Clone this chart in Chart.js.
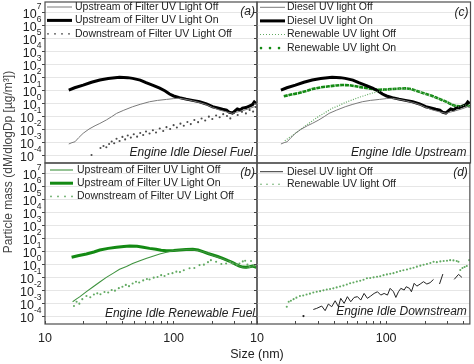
<!DOCTYPE html>
<html><head><meta charset="utf-8">
<script src="https://cdn.jsdelivr.net/npm/chart.js@4/dist/chart.umd.min.js"></script>
<style>
html,body{margin:0;padding:0;background:#fff;}
#wrap{position:relative;width:474px;height:364px;overflow:hidden;}
#wrap canvas{position:absolute;left:0;top:0;}
</style></head><body>
<div id="wrap">
<canvas id="ca" width="474" height="364"></canvas>
<canvas id="cb" width="474" height="364"></canvas>
<canvas id="cc" width="474" height="364"></canvas>
<canvas id="cd" width="474" height="364"></canvas>
</div>
<script>
// ---------- axis ticks ----------
const xTickValues = [10, 20, 30, 40, 50, 60, 70, 80, 90, 100, 200, 300, 400];
const xLabelValues = [10, 100];
const yTickExponents = [-4, -3, -2, -1, 0, 1, 2, 3, 4, 5, 6, 7];
const X_MIN = 10, X_MAX = 445;
const Y_MIN = 2.45e-5, Y_MAX = 5.9e7;

// ---------- legend / annotation text ----------
const legendA = ['Upstream of Filter UV Light Off', 'Upstream of Filter UV Light On', 'Downstream of Filter UV Light Off'];
const legendB = ['Upstream of Filter UV Light Off', 'Upstream of Filter UV Light On', 'Downstream of Filter UV Light Off'];
const legendC = ['Diesel UV light Off', 'Diesel UV light On', 'Renewable UV light Off', 'Renewable UV light On'];
const legendD = ['Diesel UV light Off', 'Renewable UV light Off'];

// ---------- data (size nm, mass dM/dlogDp) ----------
// Diesel, upstream, UV off
const dieselUpOffSize = [15.3, 16.2, 17.1, 18.3, 19.8, 22, 24.5, 26.7, 30, 33, 36, 41, 48, 55, 65, 75, 88, 100, 111, 125, 140, 159, 180, 200, 225, 256, 287, 310, 343, 380, 424, 440];
const dieselUpOffVal  = [7.1e-4, 9e-4, 1.05e-3, 2.2e-3, 4.7e-3, 0.010, 0.018, 0.027, 0.05, 0.09, 0.16, 0.28, 0.52, 0.8, 1.26, 1.6, 1.9, 2.2, 2.3, 1.9, 1.5, 1.1, 0.75, 0.47, 0.3, 0.21, 0.16, 0.2, 0.26, 0.35, 0.52, 0.45];
// Diesel, upstream, UV on
const dieselUpOnSize = [15.3, 17, 19.8, 23, 26.7, 31, 38, 44, 48, 55, 61, 70, 78, 86, 93, 100, 111, 125, 140, 159, 180, 201, 220, 240, 258, 270, 287, 300, 313, 330, 343, 365, 388, 410, 424, 440];
const dieselUpOnVal  = [10, 15, 24, 40, 59, 78, 95, 90, 79, 58, 37, 22, 14, 8.5, 4.9, 3.5, 2.6, 2.0, 1.6, 1.26, 0.85, 0.52, 0.42, 0.33, 0.29, 0.2, 0.17, 0.25, 0.35, 0.3, 0.41, 0.45, 0.59, 0.75, 1.2, 0.9];
// Diesel, downstream, UV off (panel a)
const dieselDownSizeA = [23, 27, 28.5, 30, 31.5, 33, 34.5, 36, 38, 40, 42, 44, 46.5, 49, 52, 55, 58, 61, 65, 69, 73, 78, 83, 88, 94, 100, 106, 113, 120, 128, 136, 145, 155, 165, 176, 188, 200, 214, 228, 243, 260, 276, 295, 315, 340, 365, 390, 415, 435];
const dieselDownValA  = [1.0e-4, 3.5e-4, 5e-4, 4e-4, 7e-4, 1.1e-3, 8e-4, 1.8e-3, 1.2e-3, 2.5e-3, 1.6e-3, 3.2e-3, 2.2e-3, 4e-3, 2.6e-3, 5e-3, 3.5e-3, 6.5e-3, 4.5e-3, 8e-3, 5.5e-3, 0.011, 7e-3, 0.014, 0.01, 0.02, 0.013, 0.026, 0.018, 0.035, 0.024, 0.05, 0.034, 0.065, 0.045, 0.09, 0.06, 0.11, 0.08, 0.14, 0.1, 0.066, 0.17, 0.12, 0.21, 0.16, 0.29, 0.22, 0.5];
// Renewable, upstream, UV off
const renewUpOffSize = [16.4, 17.5, 18.7, 21, 23.7, 26.5, 30, 34, 38, 43, 48, 54, 61, 69, 78, 88, 99, 111, 125, 140, 159, 180, 202, 220, 241, 265, 288, 305, 325, 345, 366, 390, 412, 440];
const renewUpOffVal  = [1.26e-3, 2e-3, 3.1e-3, 7.5e-3, 0.018, 0.04, 0.095, 0.2, 0.39, 0.65, 1.1, 1.7, 2.7, 4, 5.9, 8, 10.5, 12, 13, 12.5, 10.5, 7.5, 4.5, 3.4, 2.5, 1.8, 1.3, 1.0, 0.7, 0.55, 0.5, 0.65, 0.7, 0.6];
// Renewable, upstream, UV on
const renewUpOnSize = [16.1, 18, 21, 24, 26.7, 31, 36, 41, 45.6, 52, 58, 65, 73, 80, 88, 100, 111, 125, 141, 155, 169, 185, 202, 220, 241, 265, 288, 305, 325, 345, 366, 390, 412, 440];
const renewUpOnVal  = [3.3, 4.3, 5.9, 8.5, 12, 16, 19.5, 22.5, 24.5, 23, 19.5, 16, 13.5, 11.5, 10.5, 11, 12, 13, 13.5, 12, 8.9, 6.5, 5, 3.8, 2.7, 1.8, 1.3, 0.95, 0.7, 0.58, 0.56, 0.62, 0.7, 0.56];
// Renewable, downstream, UV off (panel b)
const renewDownSizeB = [16.8, 17.6, 18.5, 19.5, 21, 22.5, 24, 25.5, 27, 29, 31, 33, 35, 37.5, 40, 42.5, 45, 48, 51, 54, 58, 62, 65, 70, 75, 80, 85, 91, 98, 105, 112, 120, 133, 145, 159, 172, 185, 195, 214, 235, 256, 275, 288, 310, 325, 345, 360, 375, 390, 400, 420];
const renewDownValB  = [5.9e-4, 1.26e-3, 9e-4, 2e-3, 3.5e-3, 2.8e-3, 4.5e-3, 5.6e-3, 4.8e-3, 7e-3, 6.5e-3, 0.01, 0.009, 0.014, 0.018, 0.025, 0.02, 0.032, 0.044, 0.038, 0.055, 0.07, 0.065, 0.09, 0.1, 0.14, 0.12, 0.17, 0.2, 0.26, 0.24, 0.33, 0.47, 0.5, 0.83, 0.9, 1.4, 2.0, 1.5, 1.0, 1.1, 1.4, 1.1, 0.9, 1.1, 1.6, 1.8, 0.9, 0.6, 1.7, 0.8];
// Diesel, downstream, UV off (panel d, gaps = missing)
const dieselDownSizeD = [22.9, 25, 27.3, 29.0, 31.7, 33.7, 35.7, 37.9, 40.3, 42.7, 44.5, 47.3, 50.1, 53.2, 56.5, 60, 63.6, 67.5, 71.6, 76, 80.7, 85.7, 90.9, 96.5, 102.4, 107.4, 114, 118.9, 124.6, 130, 138, 143, 151.7, 157, 164.8, 172.9, 183.5, 194.7, 206.6, 219, 232.8, 245, 259, 275, 300, 336.6, 363.6, 386];
const dieselDownValD  = [1e-4, null, 3.2e-4, 3.9e-4, 5.9e-4, 2.6e-4, 8.4e-4, 5.2e-4, 1.5e-3, 5.2e-4, 2.3e-3, 9.5e-4, 3.1e-3, 1.26e-3, 2.7e-3, 3.1e-3, 1.7e-3, 5.5e-3, 2.3e-3, 3.5e-3, 5.5e-3, 7.4e-3, 4.1e-3, 5.5e-3, 4.1e-3, 0.0135, 7.4e-3, 2.7e-3, 7.4e-3, 0.0135, 0.01, 0.018, 0.0135, 7.4e-3, 0.033, 0.02, 0.029, 0.044, 0.029, 0.037, 0.066, null, 0.029, 0.17, null, 0.066, 0.16, 0.095];
// Renewable, downstream, UV off (panel d)
const renewDownSizeD = [17, 17.6, 18.3, 19.2, 20.2, 21.5, 22.8, 24.2, 25.7, 27.3, 29, 30.8, 32.7, 34.7, 36.8, 39, 41.4, 44, 46.7, 49.6, 52.6, 55.8, 59.3, 63, 66.8, 71, 75.3, 80, 85, 90, 95.5, 101.4, 107.6, 114, 121, 128.5, 136, 145, 154, 163, 173, 184, 195, 207, 220, 233, 247, 263, 279, 296, 313, 332, 352, 363, 375, 390, 405, 421, 440];
const renewDownValD  = [5.2e-4, 1.26e-3, 1.5e-3, 2.0e-3, 2.6e-3, 3.5e-3, 3.8e-3, 4.6e-3, 5.3e-3, 6.5e-3, 7.4e-3, 8.2e-3, 9.5e-3, 0.011, 0.012, 0.0135, 0.016, 0.019, 0.022, 0.027, 0.033, 0.038, 0.045, 0.052, 0.062, 0.08, 0.085, 0.095, 0.105, 0.115, 0.14, 0.16, 0.18, 0.2, 0.24, 0.29, 0.33, 0.38, 0.45, 0.52, 0.63, 0.75, 0.88, 1.0, 1.2, 1.5, 1.4, 1.6, 1.7, 1.8, 2.0, 1.9, 1.7, 1.5, 0.35, 0.5, 0.6, 0.7, 2.0];

// ---------- styling ----------
const FAMILY = '"Liberation Sans", Arial, Helvetica, sans-serif';
Chart.defaults.font.family = FAMILY;
const C_BLACK = '#000000', C_GRAY = '#7a7a7a', C_DOT = '#4a4a4a';
const C_GREEN = '#138a13', C_GREEN_THIN = '#3f933f', C_GREEN_DOT = '#62aa62';
const C_TEXT = '#222222', C_FRAME = '#4d4d4d';

function pts(xs, ys) { return xs.map((x, i) => ({x: x, y: ys[i]})); }
function lineDs(label, xs, ys, color, width, dash) {
  return {label, data: pts(xs, ys), borderColor: color, backgroundColor: color, borderWidth: width,
    borderDash: dash || [], pointRadius: 0, tension: 0, fill: false, spanGaps: false};
}
function dotDs(label, xs, ys, color, r) {
  return {label, data: pts(xs, ys), showLine: false, pointRadius: r, pointHoverRadius: r,
    pointBackgroundColor: color, pointBorderWidth: 0, borderColor: color, backgroundColor: color};
}

function xScale(show) {
  return {
    type: 'logarithmic', min: X_MIN, max: X_MAX, display: show,
    afterBuildTicks: s => { s.ticks = xTickValues.map(v => ({value: v})); },
    afterFit: s => { s.height = show ? 40 : 0; },
    ticks: {autoSkip: false, maxRotation: 0, padding: 10, color: C_TEXT, font: {size: 12.5},
      callback: v => xLabelValues.includes(v) ? String(v) : ''},
    grid: {drawOnChartArea: false, drawTicks: true, tickLength: -3, tickColor: '#444', tickWidth: 1},
    border: {display: false}
  };
}
function yScale(labelSpace) {
  return {
    type: 'logarithmic', min: Y_MIN, max: Y_MAX,
    afterBuildTicks: s => { s.ticks = yTickExponents.map(e => ({value: Math.pow(10, e)})); },
    afterFit: s => { s.width = labelSpace; },
    ticks: {display: false},
    grid: {color: '#e6e6e6', lineWidth: 1, drawTicks: true, tickLength: 3, tickColor: '#444', tickWidth: 1},
    border: {display: false}
  };
}

const decoPlugin = {
  id: 'deco',
  afterDatasetsDraw(chart, args, o) {
    const ctx = chart.ctx, a = chart.chartArea;
    ctx.save();
    ctx.strokeStyle = C_FRAME; ctx.lineWidth = 1.2;
    ctx.strokeRect(a.left, a.top, a.right - a.left, a.bottom - a.top);
    ctx.textBaseline = 'middle'; ctx.textAlign = 'left';
    o.legend.forEach((it, i) => {
      const y = a.top + o.legY + i * o.legStep;
      const x0 = a.left + o.legX0, x1 = a.left + o.legX1;
      if (it.dots) {
        ctx.fillStyle = it.color;
        for (let x = x0 + 1; x <= x1; x += it.gap) { ctx.beginPath(); ctx.arc(x, y, it.r, 0, Math.PI * 2); ctx.fill(); }
      } else {
        ctx.strokeStyle = it.color; ctx.lineWidth = it.width; ctx.setLineDash(it.dash || []);
        ctx.beginPath(); ctx.moveTo(x0, y); ctx.lineTo(x1, y); ctx.stroke(); ctx.setLineDash([]);
      }
      ctx.fillStyle = C_TEXT; ctx.font = '10.5px ' + FAMILY;
      ctx.fillText(it.text, a.left + o.legText, y);
    });
    ctx.textAlign = 'right';
    ctx.font = 'italic 12px ' + FAMILY; ctx.fillStyle = C_TEXT;
    ctx.fillText(o.letter, a.right - 2, a.top + o.letterY);
    ctx.fillText(o.note, a.right - o.noteR, a.bottom - o.noteB);
    if (o.yLabels) {
      const ys = chart.scales.y;
      ctx.textBaseline = 'alphabetic'; ctx.textAlign = 'right'; ctx.fillStyle = C_TEXT;
      yTickExponents.forEach(e => {
        const p = ys.getPixelForValue(Math.pow(10, e));
        const ex = String(e);
        ctx.font = '8.5px ' + FAMILY;
        const ew = ctx.measureText(ex).width;
        ctx.fillText(ex, 41.5, p - 3.5);
        ctx.font = '12.5px ' + FAMILY;
        ctx.fillText('10', 41.5 - ew, p + 6);
      });
    }
    if (o.titles) {
      ctx.fillStyle = '#444'; ctx.textAlign = 'center'; ctx.textBaseline = 'middle';
      ctx.font = '12px ' + FAMILY;
      ctx.save(); ctx.translate(9, 162); ctx.rotate(-Math.PI / 2);
      ctx.fillText('Particle mass (dM/dlogDp [\u00b5g/m\u00b3])', 0, 0);
      ctx.restore();
      ctx.fillStyle = C_TEXT; ctx.font = '12.5px ' + FAMILY;
      ctx.fillText('Size (nm)', 257, 355);
    }
    ctx.restore();
  }
};

function makeChart(id, pad, showX, ySpace, datasets, deco) {
  return new Chart(document.getElementById(id), {
    type: 'line',
    data: {datasets},
    options: {
      responsive: false, animation: false, devicePixelRatio: 1, events: [],
      layout: {padding: pad},
      plugins: {legend: {display: false}, tooltip: {enabled: false}, deco},
      scales: {x: xScale(showX), y: yScale(ySpace)}
    },
    plugins: [decoPlugin]
  });
}

// Panel (a)
makeChart('ca', {left: 0, right: 217, top: 2, bottom: 201}, false, 45, [
  dotDs(legendA[2], dieselDownSizeA, dieselDownValA, C_DOT, 1.05),
  lineDs(legendA[0], dieselUpOffSize, dieselUpOffVal, C_GRAY, 1),
  lineDs(legendA[1], dieselUpOnSize, dieselUpOnVal, C_BLACK, 3)
], {
  legend: [
    {text: legendA[0], color: C_GRAY, width: 1},
    {text: legendA[1], color: C_BLACK, width: 3},
    {text: legendA[2], dots: true, color: C_DOT, r: 0.9, gap: 7}
  ], legY: 5, legStep: 13.4, legX0: 2, legX1: 27, legText: 30,
  letter: '(a)', letterY: 10, note: 'Engine Idle Diesel Fuel', noteR: 4, noteB: 10, yLabels: true
});

// Panel (b)
makeChart('cb', {left: 0, right: 217, top: 163, bottom: 0}, true, 45, [
  dotDs(legendB[2], renewDownSizeB, renewDownValB, C_GREEN_DOT, 1.05),
  lineDs(legendB[0], renewUpOffSize, renewUpOffVal, C_GREEN_THIN, 1.1),
  lineDs(legendB[1], renewUpOnSize, renewUpOnVal, C_GREEN, 3)
], {
  legend: [
    {text: legendB[0], color: C_GREEN_THIN, width: 1.1},
    {text: legendB[1], color: C_GREEN, width: 3},
    {text: legendB[2], dots: true, color: C_GREEN_DOT, r: 0.9, gap: 7}
  ], legY: 7, legStep: 13.2, legX0: 5, legX1: 28, legText: 32,
  letter: '(b)', letterY: 10, note: 'Engine Idle Renewable Fuel', noteR: 2, noteB: 10, yLabels: true, titles: true
});

// Panel (c)
makeChart('cc', {left: 257, right: 3.5, top: 2, bottom: 201}, false, 0, [
  lineDs(legendC[0], dieselUpOffSize, dieselUpOffVal, C_GRAY, 1),
  lineDs(legendC[2], renewUpOffSize, renewUpOffVal, C_GREEN_DOT, 1.2, [1, 1.5]),
  lineDs(legendC[1], dieselUpOnSize, dieselUpOnVal, C_BLACK, 3),
  lineDs(legendC[3], renewUpOnSize, renewUpOnVal, C_GREEN, 2.6, [4, 0.8])
], {
  legend: [
    {text: legendC[0], color: C_GRAY, width: 1},
    {text: legendC[1], color: C_BLACK, width: 3},
    {text: legendC[2], color: C_GREEN_DOT, width: 1.2, dash: [1, 2]},
    {text: legendC[3], dots: true, color: C_GREEN, r: 1.3, gap: 9}
  ], legY: 5.3, legStep: 13.6, legX0: 3, legX1: 28, legText: 30,
  letter: '(c)', letterY: 11, note: 'Engine Idle Upstream', noteR: 4, noteB: 10
});

// Panel (d)
const dDiesel = lineDs(legendD[0], dieselDownSizeD, dieselDownValD, '#222222', 1);
dDiesel.pointRadius = c => (c.dataIndex === 0 ? 1.1 : 0);
dDiesel.pointBorderWidth = 0;
makeChart('cd', {left: 257, right: 3.5, top: 163, bottom: 0}, true, 0, [
  dotDs(legendD[1], renewDownSizeD, renewDownValD, C_GREEN_DOT, 1.05),
  dDiesel
], {
  legend: [
    {text: legendD[0], color: '#333333', width: 1},
    {text: legendD[1], dots: true, color: C_GREEN_DOT, r: 0.8, gap: 6}
  ], legY: 8.7, legStep: 12.5, legX0: 3, legX1: 26, legText: 30,
  letter: '(d)', letterY: 10, note: 'Engine Idle Downstream', noteR: 3, noteB: 12
});
</script>
</body></html>
